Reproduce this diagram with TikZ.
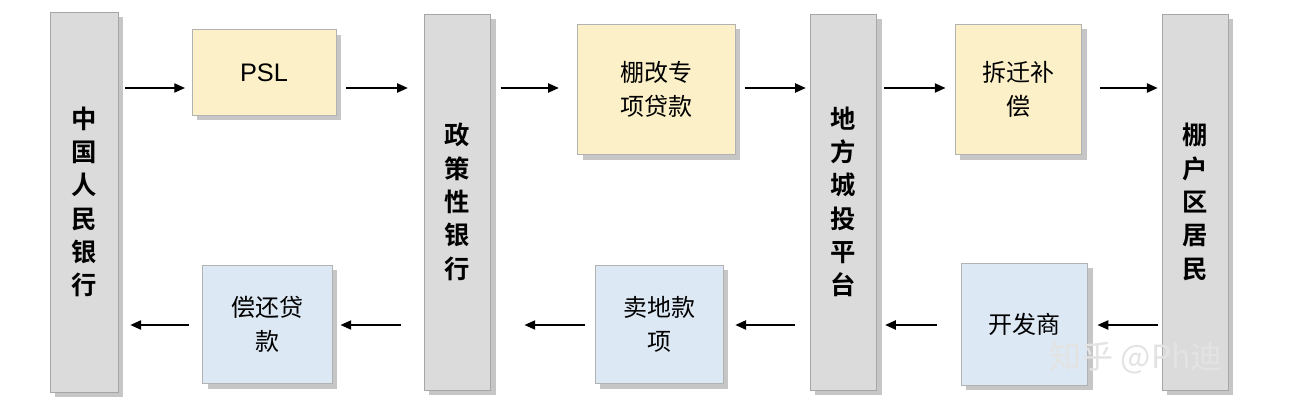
\documentclass[tikz,border=0pt]{standalone}
\usepackage{fontspec}
\usetikzlibrary{arrows.meta}
\setmainfont{Liberation Sans}
\newfontfamily\cjk{Noto Sans CJK SC}
\newfontfamily\cjkb{Noto Sans CJK SC Bold}
\begin{document}
\begin{tikzpicture}[x=0.75pt,y=-0.75pt,
  bar/.style={draw=gray!70,fill=gray!28,line width=0.6pt,inner sep=0,
    font=\cjkb\fontsize{19}{25}\selectfont,align=center},
  ybox/.style={draw=gray!60,fill={rgb,255:red,252;green,240;blue,200},line width=0.6pt,inner sep=0,
    font=\cjk\fontsize{18}{25}\selectfont,align=center},
  bbox/.style={draw=gray!60,fill={rgb,255:red,221;green,232;blue,245},line width=0.6pt,inner sep=0,
    font=\cjk\fontsize{18}{25}\selectfont,align=center},
  arr/.style={-{Triangle[length=8pt,width=7pt]},line width=0.9pt},
  shd/.style={fill=gray!45}]
\useasboundingbox (0,0) rectangle (1291,413);
\fill[white] (0,0) rectangle (1291,413);
\foreach \a/\b/\c/\d in {50/12/118/392,424/14/491/390,810/14/877/390,1162/14/1228/390,192/30/336/115,578/24/735/155,955/24/1082/155,203/265/332/384,595/265/723/384,961/263/1088/385}
  \fill[shd] (\a+5,\b+5) rectangle (\c+5,\d+5);
\node[bar,minimum width=51pt,minimum height=285pt] (pboc) at (84,202) {中\\国\\人\\民\\银\\行};
\node[bar,minimum width=50pt,minimum height=282pt] (pbank) at (457.5,202) {政\\策\\性\\银\\行};
\node[bar,minimum width=50pt,minimum height=282pt] (lgfv) at (843.5,202) {地\\方\\城\\投\\平\\台};
\node[bar,minimum width=49.5pt,minimum height=282pt] (res) at (1195,202) {棚\\户\\区\\居\\民};
\node[ybox,minimum width=108pt,minimum height=64pt,font=\fontsize{19}{24}\selectfont] (psl) at (264,72.5) {PSL};
\node[ybox,minimum width=118pt,minimum height=98pt] (loan) at (656.5,89.5) {棚改专\\项贷款};
\node[ybox,minimum width=95pt,minimum height=98pt] (comp) at (1018.5,89.5) {拆迁补\\偿};
\node[bbox,minimum width=97pt,minimum height=89pt] (repay) at (267.5,324.5) {偿还贷\\款};
\node[bbox,minimum width=96pt,minimum height=89pt] (land) at (659,324.5) {卖地款\\项};
\node[bbox,minimum width=95pt,minimum height=91.5pt] (dev) at (1024.5,324) {开发商};
\draw[arr] ([xshift=5pt]pboc.east|-0,88) -- ([xshift=-5pt]psl.west|-0,88);
\draw[arr] ([xshift=7.5pt]psl.east|-0,88) -- ([xshift=-12pt]pbank.west|-0,88);
\draw[arr] ([xshift=7pt]pbank.east|-0,88) -- ([xshift=-14pt]loan.west|-0,88);
\draw[arr] ([xshift=7pt]loan.east|-0,88) -- ([xshift=-3pt]lgfv.west|-0,88);
\draw[arr] ([xshift=5pt]lgfv.east|-0,88) -- ([xshift=-7pt]comp.west|-0,88);
\draw[arr] ([xshift=13pt]comp.east|-0,88) -- ([xshift=-3pt]res.west|-0,88);
\draw[arr] ([xshift=-3pt]res.west|-0,325) -- ([xshift=7pt]dev.east|-0,325);
\draw[arr] ([xshift=-18pt]dev.west|-0,325) -- ([xshift=6pt]lgfv.east|-0,325);
\draw[arr] ([xshift=-11pt]lgfv.west|-0,325) -- ([xshift=9pt]land.east|-0,325);
\draw[arr] ([xshift=-7pt]land.west|-0,325) -- ([xshift=25pt]pbank.east|-0,325);
\draw[arr] ([xshift=-17pt]pbank.west|-0,325) -- ([xshift=6pt]repay.east|-0,325);
\draw[arr] ([xshift=-10pt]repay.west|-0,325) -- ([xshift=9pt]pboc.east|-0,325);
\node[text=gray!22,font=\cjk\fontsize{24}{28}\selectfont,anchor=west] (wm) at (1045,358) {知乎 @Ph迪};
\end{tikzpicture}
\end{document}
